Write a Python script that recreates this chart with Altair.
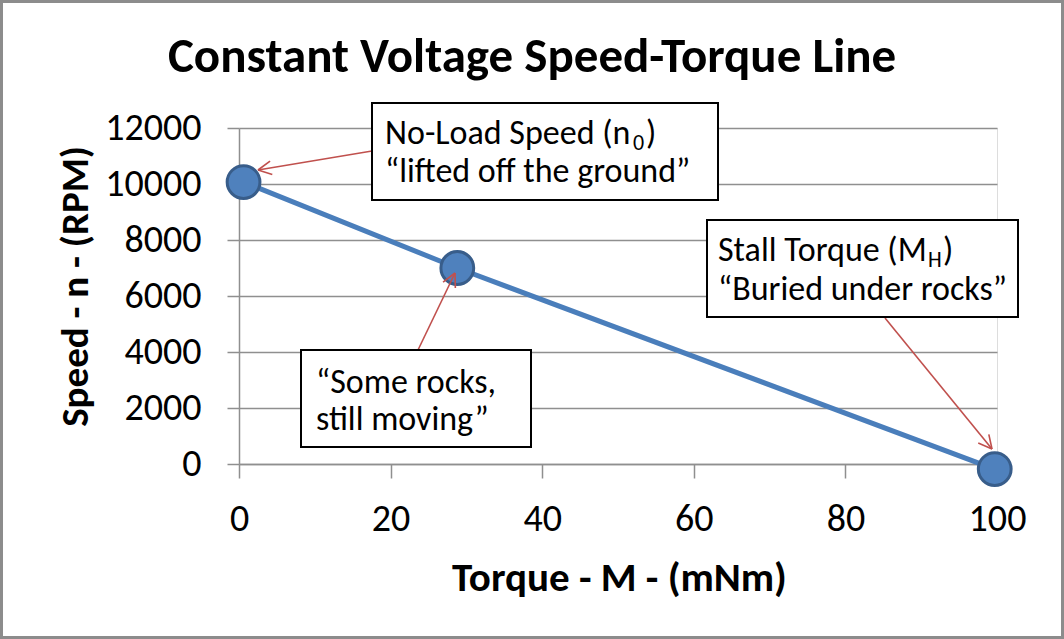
import math
import altair as alt
import pandas as pd

# ---------------- data ----------------
torque = [0.6, 28.8, 99.7]          # mNm
speed = [10070, 7000, -180]          # RPM
x_ticks = [0, 20, 40, 60, 80, 100]
y_ticks = [0, 2000, 4000, 6000, 8000, 10000, 12000]

chart_title = "Constant Voltage Speed-Torque Line"
x_title = "Torque - M - (mNm)"
y_title = "Speed - n - (RPM)"

note1_main = "No-Load Speed (n"
note1_sub = "0"
note1_close = ")"
note1_line2 = "\u201clifted off the ground\u201d"
note2_line1 = "\u201cSome rocks,"
note2_line2 = "still moving\u201d"
note3_main = "Stall Torque (M"
note3_sub = "H"
note3_close = ")"
note3_line2 = "\u201cBuried under rocks\u201d"

# ---------------- layout ----------------
W, H = 758, 336
PAD_L, PAD_T = 239, 128
PAD_R = 1064 - PAD_L - W
PAD_B = 639 - PAD_T - H
FONT = "Carlito, Lato, sans-serif"
GRID = "#8f8f8f"
RED = "#C0504D"

df = pd.DataFrame({"torque": torque, "speed": speed})

xs = alt.Scale(domain=[0, 100], nice=False, zero=False)
ys = alt.Scale(domain=[0, 12000], nice=False, zero=False)

x_axis = alt.Axis(values=x_ticks, format="d", grid=False, domain=True, domainColor=GRID,
                  domainWidth=1.5, ticks=True, tickSize=14, tickColor=GRID, tickWidth=1.5,
                  labelFont=FONT, labelFontSize=38, labelColor="black", labelPadding=22,
                  labelFlush=False, title=x_title, titleFont=FONT, titleFontSize=41,
                  titleFontWeight="bold", titleColor="black", titleX=380, titleY=114,
                  titleAlign="center", titleBaseline="middle")
y_axis = alt.Axis(values=y_ticks, format="d", grid=True, gridColor=GRID, gridWidth=1.5,
                  domain=True, domainColor=GRID, domainWidth=1.5,
                  ticks=True, tickSize=12, tickColor=GRID, tickWidth=1.5,
                  labelFont=FONT, labelFontSize=38, labelColor="black", labelPadding=26,
                  labelFlush=False, title=y_title, titleFont=FONT, titleFontSize=39,
                  titleFontWeight="bold", titleColor="black", titleX=-164, titleY=158,
                  titleAngle=270, titleAlign="center", titleBaseline="middle")

base = alt.Chart(df)
line = base.mark_line(color="#4A7EBB", strokeWidth=5, clip=False).encode(
    x=alt.X("torque:Q", scale=xs, axis=x_axis),
    y=alt.Y("speed:Q", scale=ys, axis=y_axis),
)
points = base.mark_point(filled=True, shape="circle", size=1075, fill="#4F81BD",
                         stroke="#385D8A", strokeWidth=3, opacity=1, clip=False).encode(
    x=alt.X("torque:Q", scale=xs),
    y=alt.Y("speed:Q", scale=ys),
)

# ---------------- annotations (pixel coords relative to plot origin) ----------------
def px(v):
    return v - PAD_L


def py(v):
    return v - PAD_T


boxes = pd.DataFrame({
    "x": [px(372), px(301), px(707)],
    "x2": [px(718), px(531), px(1018)],
    "y": [py(103), py(350), py(220)],
    "y2": [py(200), py(447), py(317)],
})
box_layer = alt.Chart(boxes).mark_rect(fill="white", stroke="black", strokeWidth=2).encode(
    x=alt.X("x:Q", scale=None), x2="x2:Q", y=alt.Y("y:Q", scale=None), y2="y2:Q")


def arrow_rows(name, sx, sy, tx, ty, L=15, ang=27):
    rows = [{"seg": name + "s", "o": 0, "px": px(sx), "py": py(sy)},
            {"seg": name + "s", "o": 1, "px": px(tx), "py": py(ty)}]
    dx, dy = tx - sx, ty - sy
    n = math.hypot(dx, dy)
    ux, uy = dx / n, dy / n
    for i, sgn in enumerate([1, -1]):
        a = math.radians(ang) * sgn
        rx = ux * math.cos(a) - uy * math.sin(a)
        ry = ux * math.sin(a) + uy * math.cos(a)
        rows.append({"seg": f"{name}w{i}", "o": 0, "px": px(tx - L * rx), "py": py(ty - L * ry)})
        rows.append({"seg": f"{name}w{i}", "o": 1, "px": px(tx), "py": py(ty)})
    return rows


arrows = pd.DataFrame(arrow_rows("a", 372, 151, 258, 170)
                      + arrow_rows("b", 418, 350, 455, 273)
                      + arrow_rows("c", 885, 318, 992, 449))
arrow_layer = alt.Chart(arrows).mark_line(color=RED, strokeWidth=1.6, clip=False).encode(
    x=alt.X("px:Q", scale=None), y=alt.Y("py:Q", scale=None), detail="seg:N", order="o:Q")

TS = 34
texts = pd.DataFrame({
    "t": [note1_main, note1_line2, note2_line1, note2_line2, note3_main, note3_line2],
    "x": [px(385), px(385), px(316), px(316), px(718), px(718)],
    "y": [py(134), py(172), py(383), py(420), py(251), py(290)],
})
text_layer = alt.Chart(texts).mark_text(align="left", baseline="middle", font=FONT,
                                        fontSize=TS, color="black").encode(
    x=alt.X("x:Q", scale=None), y=alt.Y("y:Q", scale=None), text="t:N")

subs = pd.DataFrame({
    "t": [note1_sub, note3_sub],
    "x": [px(633), px(928)],
    "y": [py(143), py(260)],
})
sub_layer = alt.Chart(subs).mark_text(align="left", baseline="middle", font=FONT,
                                      fontSize=22, color="black").encode(
    x=alt.X("x:Q", scale=None), y=alt.Y("y:Q", scale=None), text="t:N")
closes = pd.DataFrame({
    "t": [note1_close, note3_close],
    "x": [px(646), px(943)],
    "y": [py(134), py(251)],
})
close_layer = alt.Chart(closes).mark_text(align="left", baseline="middle", font=FONT,
                                          fontSize=TS, color="black").encode(
    x=alt.X("x:Q", scale=None), y=alt.Y("y:Q", scale=None), text="t:N")

title_layer = alt.Chart(pd.DataFrame({"t": [chart_title]})).mark_text(
    align="center", baseline="middle", font=FONT, fontSize=49, fontWeight="bold",
    color="black").encode(x=alt.value(px(532)), y=alt.value(py(57)), text="t:N")

border = alt.Chart(pd.DataFrame({"k": [0]})).mark_rect(
    fillOpacity=0, stroke="#8c8c8c", strokeWidth=3).encode(
    x=alt.value(-PAD_L + 1.5), x2=alt.value(1064 - PAD_L - 1.5),
    y=alt.value(-PAD_T + 1.5), y2=alt.value(639 - PAD_T - 1.5))

chart = alt.layer(line, points, arrow_layer, box_layer, text_layer, sub_layer, close_layer,
                  title_layer, border).properties(
    width=W, height=H,
    autosize=alt.AutoSizeParams(type="none"),
    padding={"left": PAD_L, "top": PAD_T, "right": PAD_R, "bottom": PAD_B},
).configure_view(stroke=None).configure(background="white")

chart.save("out.html", embed_options={"renderer": "svg", "actions": False})
